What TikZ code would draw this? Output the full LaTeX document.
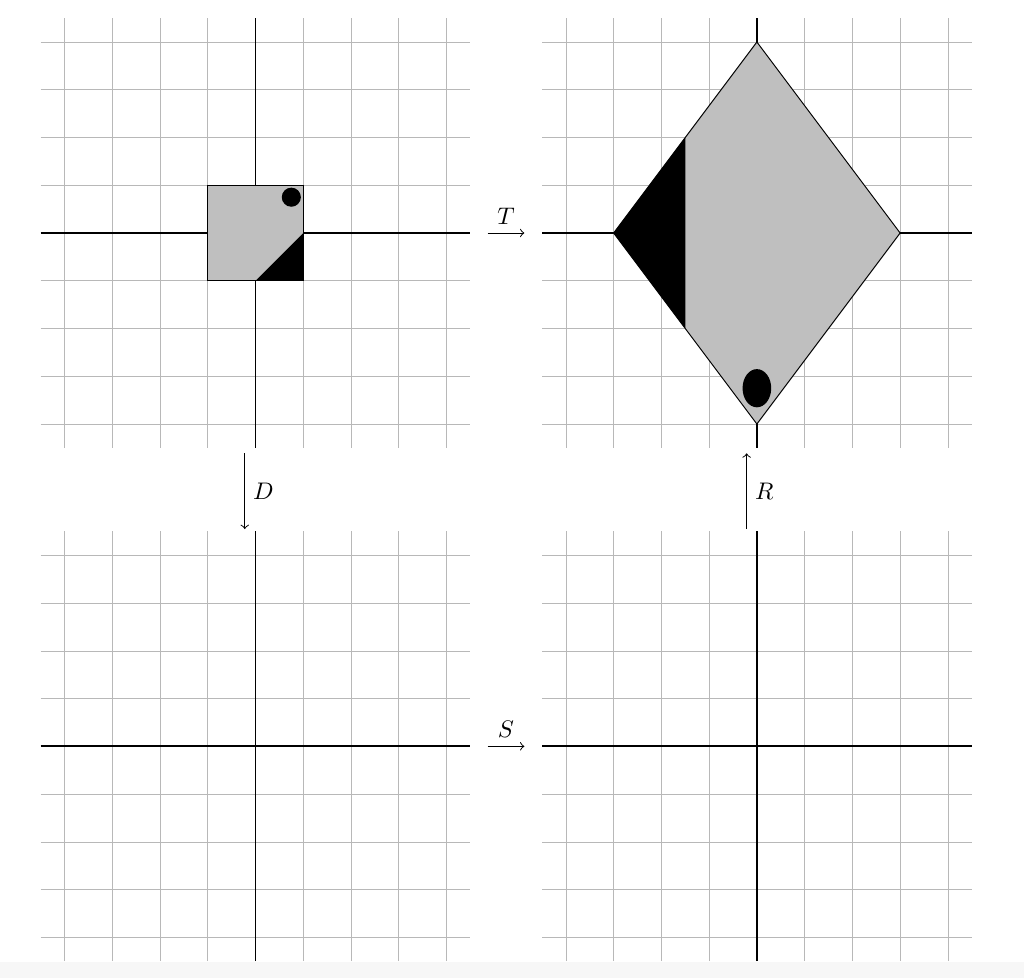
\documentclass[tikz,border=0pt]{standalone}
\begin{document}
\begin{tikzpicture}[x=0.7cm,y=0.7cm,
  gridline/.style={draw=black!28,line width=0.25pt},
  axisline/.style={thick},
  figfill/.style={draw=black,fill=black!25},
  maparrow/.style={->}]
\useasboundingbox (-5.351,-15.602) rectangle (16.094,4.880);
\fill[black!3] (-5.351,-15.602) rectangle (16.094,-15.27);
% panels
\foreach \cx/\cy in {0/0,10.5/0,0/-10.75,10.5/-10.75}{
  \begin{scope}[shift={(\cx,\cy)}]
    \foreach \i in {-4,...,4}{
      \draw[gridline] (\i,-4.5) -- (\i,4.5);
      \draw[gridline] (-4.5,\i) -- (4.5,\i);
    }
    \draw[axisline] (-4.5,0) -- (4.5,0);
    \draw[axisline] (0,-4.5) -- (0,4.5);
  \end{scope}
}
% top-left figure
\draw[figfill] (-1,-1) rectangle (1,1);
\fill[black] (0,-1) -- (1,-1) -- (1,0) -- cycle;
\fill[black] (0.75,0.75) circle[radius=0.2];
% top-right figure
\begin{scope}[shift={(10.5,0)}]
  \draw[figfill] (0,4) -- (3,0) -- (0,-4) -- (-3,0) -- cycle;
  \fill[black] (-3,0) -- (-1.5,2) -- (-1.5,-2) -- cycle;
  \fill[black] (0,-3.25) ellipse[x radius=0.3,y radius=0.4];
\end{scope}
% arrows
\coordinate (t1) at (4.86,0);
\coordinate (t2) at (5.63,0);
\coordinate (s1) at (4.86,-10.75);
\coordinate (s2) at (5.63,-10.75);
\coordinate (d1) at (-0.225,-4.614);
\coordinate (d2) at (-0.225,-6.199);
\coordinate (r1) at (10.285,-6.199);
\coordinate (r2) at (10.285,-4.614);
\draw[maparrow] (t1) -- node[above] (Tlab) {$T$} (t2);
\draw[maparrow] (s1) -- node[above] (Slab) {$S$} (s2);
\draw[maparrow] (d1) -- node[right] (Dlab) {$D$} (d2);
\draw[maparrow] (r1) -- node[right] (Rlab) {$R$} (r2);
\end{tikzpicture}
\end{document}
